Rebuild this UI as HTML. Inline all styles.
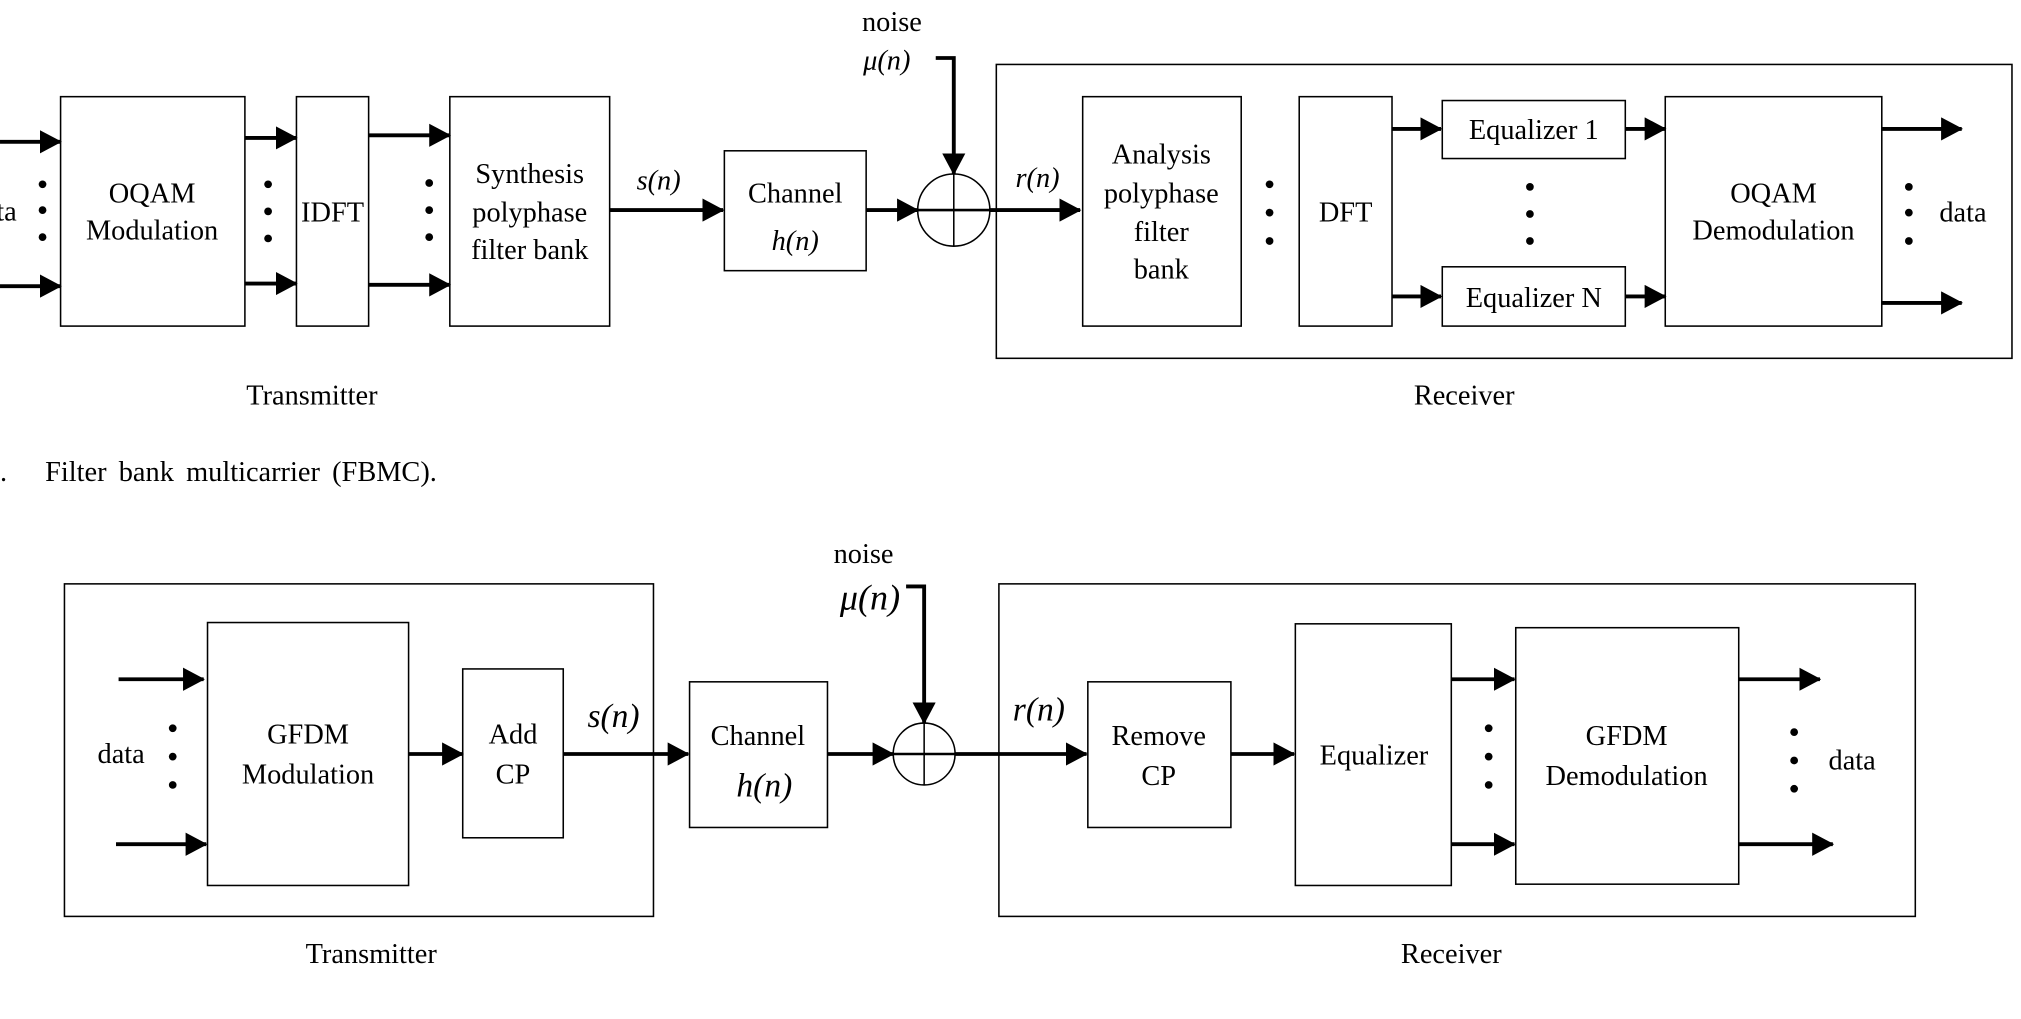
<!DOCTYPE html>
<html><head><meta charset="utf-8"><style>html,body{margin:0;padding:0;background:#fff}svg{display:block}</style></head>
<body>
<svg width="2021" height="1019" viewBox="0 0 1568 790.6" xmlns="http://www.w3.org/2000/svg" font-family="Liberation Serif, serif" font-size="22" text-anchor="middle">
<defs><marker id="a" markerWidth="17" markerHeight="18" refX="16" refY="9" orient="auto" markerUnits="userSpaceOnUse"><path d="M0,0 L17,9 L0,18 Z" fill="#000"/></marker></defs>
<g fill="none" stroke="#000" stroke-width="1.2">
<rect x="47" y="75" width="143" height="178"/>
<rect x="230" y="75" width="56" height="178"/>
<rect x="349" y="75" width="124" height="178"/>
<rect x="562" y="117" width="110" height="93"/>
<ellipse cx="740" cy="163" rx="28" ry="28"/>
<line x1="740" y1="135" x2="740" y2="191"/>
<rect x="773" y="50" width="788" height="228"/>
<rect x="840" y="75" width="123" height="178"/>
<rect x="1008" y="75" width="72" height="178"/>
<rect x="1119" y="78" width="142" height="45"/>
<rect x="1119" y="207" width="142" height="46"/>
<rect x="1292" y="75" width="168" height="178"/>
<rect x="50" y="453" width="457" height="258"/>
<rect x="161" y="483" width="156" height="204"/>
<rect x="359" y="519" width="78" height="131"/>
<rect x="535" y="529" width="107" height="113"/>
<ellipse cx="717" cy="585" rx="24" ry="24"/>
<line x1="717" y1="561" x2="717" y2="609"/>
<rect x="775" y="453" width="711" height="258"/>
<rect x="844" y="529" width="111" height="113"/>
<rect x="1005" y="484" width="121" height="203"/>
<rect x="1176" y="487" width="173" height="199"/>
</g>
<g stroke="#000" stroke-width="3" marker-end="url(#a)">
<line x1="0" y1="110" x2="47" y2="110"/><line x1="0" y1="222" x2="47" y2="222"/>
<line x1="190" y1="107" x2="230" y2="107"/><line x1="190" y1="220" x2="230" y2="220"/>
<line x1="286" y1="105" x2="349" y2="105"/><line x1="286" y1="221" x2="349" y2="221"/>
<line x1="473" y1="163" x2="561" y2="163"/>
<line x1="672" y1="163" x2="712" y2="163"/>
<line x1="768" y1="163" x2="838" y2="163"/>
<line x1="1080" y1="100" x2="1118" y2="100"/><line x1="1080" y1="230" x2="1118" y2="230"/>
<line x1="1261" y1="100" x2="1292" y2="100"/><line x1="1261" y1="230" x2="1292" y2="230"/>
<line x1="1460" y1="100" x2="1522" y2="100"/><line x1="1460" y1="235" x2="1522" y2="235"/>
<polyline fill="none" points="726,45 740,45 740,135"/>
<line x1="92" y1="527" x2="158" y2="527"/><line x1="90" y1="655" x2="160" y2="655"/>
<line x1="317" y1="585" x2="359" y2="585"/>
<line x1="437" y1="585" x2="534" y2="585"/>
<line x1="642" y1="585" x2="693" y2="585"/>
<line x1="741" y1="585" x2="843" y2="585"/>
<line x1="955" y1="585" x2="1004" y2="585"/>
<line x1="1126" y1="527" x2="1175" y2="527"/><line x1="1126" y1="655" x2="1175" y2="655"/>
<line x1="1349" y1="527" x2="1412" y2="527"/><line x1="1349" y1="655" x2="1422" y2="655"/>
<polyline fill="none" points="703,455 717,455 717,561"/>
</g>
<line x1="712" y1="163" x2="768" y2="163" stroke="#000" stroke-width="2"/>
<line x1="693" y1="585" x2="741" y2="585" stroke="#000" stroke-width="2"/>
<g fill="#000">
<circle cx="33" cy="143" r="3"/><circle cx="33" cy="163" r="3"/><circle cx="33" cy="184" r="3"/>
<circle cx="208" cy="143" r="3"/><circle cx="208" cy="164" r="3"/><circle cx="208" cy="185" r="3"/>
<circle cx="333" cy="142" r="3"/><circle cx="333" cy="163" r="3"/><circle cx="333" cy="184" r="3"/>
<circle cx="985" cy="143" r="3"/><circle cx="985" cy="165" r="3"/><circle cx="985" cy="187" r="3"/>
<circle cx="1187" cy="145" r="3"/><circle cx="1187" cy="166" r="3"/><circle cx="1187" cy="187" r="3"/>
<circle cx="1481" cy="145" r="3"/><circle cx="1481" cy="165" r="3"/><circle cx="1481" cy="187" r="3"/>
<circle cx="134" cy="565" r="3"/><circle cx="134" cy="587" r="3"/><circle cx="134" cy="609" r="3"/>
<circle cx="1155" cy="565" r="3"/><circle cx="1155" cy="587" r="3"/><circle cx="1155" cy="609" r="3"/>
<circle cx="1392" cy="568" r="3"/><circle cx="1392" cy="590" r="3"/><circle cx="1392" cy="612" r="3"/>
<text x="5" y="171">ta</text>
<text x="118" y="157">OQAM</text><text x="118" y="186">Modulation</text>
<text x="258" y="172">IDFT</text>
<text x="411" y="142">Synthesis</text><text x="411" y="172">polyphase</text><text x="411" y="201">filter bank</text>
<text x="511" y="147" font-style="italic">s(n)</text>
<text x="617" y="157">Channel</text><text x="617" y="194" font-style="italic">h(n)</text>
<text x="692" y="24">noise</text><text x="688" y="54" font-style="italic">μ(n)</text>
<text x="805" y="145" font-style="italic">r(n)</text>
<text x="901" y="127">Analysis</text><text x="901" y="157">polyphase</text><text x="901" y="187">filter</text><text x="901" y="216">bank</text>
<text x="1044" y="172">DFT</text>
<text x="1190" y="108">Equalizer 1</text><text x="1190" y="238">Equalizer N</text>
<text x="1376" y="157">OQAM</text><text x="1376" y="186">Demodulation</text>
<text x="1523" y="172">data</text>
<text x="242" y="314">Transmitter</text><text x="1136" y="314">Receiver</text>
<text x="0" y="373" text-anchor="start">.</text><text x="35" y="373" text-anchor="start" word-spacing="4">Filter bank multicarrier (FBMC).</text>
<text x="94" y="592">data</text>
<text x="239" y="577">GFDM</text><text x="239" y="608">Modulation</text>
<text x="398" y="577">Add</text><text x="398" y="608">CP</text>
<text x="476" y="564" font-style="italic" font-size="26">s(n)</text>
<text x="588" y="578">Channel</text><text x="593" y="618" font-style="italic" font-size="26">h(n)</text>
<text x="670" y="437">noise</text><text x="675" y="473" font-style="italic" font-size="28">μ(n)</text>
<text x="806" y="559" font-style="italic" font-size="26">r(n)</text>
<text x="899" y="578">Remove</text><text x="899" y="609">CP</text>
<text x="1066" y="593">Equalizer</text>
<text x="1262" y="578">GFDM</text><text x="1262" y="609">Demodulation</text>
<text x="1437" y="597">data</text>
<text x="288" y="747">Transmitter</text><text x="1126" y="747">Receiver</text>
</g>
</svg>
</body></html>
